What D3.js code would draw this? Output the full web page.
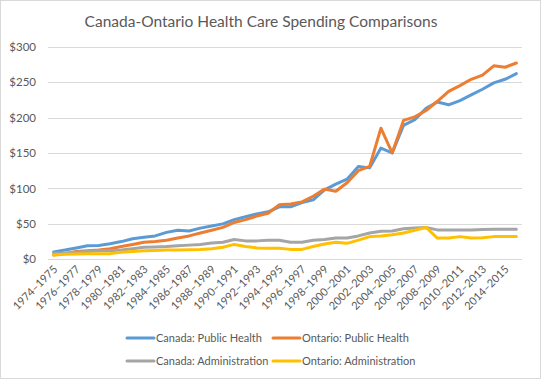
<!DOCTYPE html>
<html>
<head>
<meta charset="utf-8">
<script src="https://cdn.jsdelivr.net/npm/d3@7"></script>
<style>
html,body{margin:0;padding:0;background:#fff;}
svg{display:block;}
text{font-family:Lato,"Open Sans",sans-serif;fill:#595959;}
</style>
</head>
<body>
<svg id="chart" width="541" height="379"></svg>
<script>
const categories = ["1974–1975","1975–1976","1976–1977","1977–1978","1978–1979","1979–1980","1980–1981","1981–1982","1982–1983","1983–1984","1984–1985","1985–1986","1986–1987","1987–1988","1988–1989","1989–1990","1990–1991","1991–1992","1992–1993","1993–1994","1994–1995","1995–1996","1996–1997","1997–1998","1998–1999","1999–2000","2000–2001","2001–2002","2002–2003","2003–2004","2004–2005","2005–2006","2006–2007","2007–2008","2008–2009","2009–2010","2010–2011","2011–2012","2012–2013","2013–2014","2014–2015","2015–2016"];
const tickLabels = categories.filter((d,i)=>i%2===0);
const yTicks = [0,50,100,150,200,250,300];
const seriesNames = ["Canada: Public Health","Ontario: Public Health","Canada: Administration","Ontario: Administration"];
const seriesColors = ["#5B9BD5","#ED7D31","#A5A5A5","#FFC000"];
const canadaPublicHealth = [10.5,13,16,19,19.5,22,25,29,31,33,38,41,40,44,47,50,56,60,64,67,74,74,80,84,98,106,113,131,129,157,150,189,197,213,222,218,224,232,240,249,254,262];
const ontarioPublicHealth = [6,8,11,12,13,15,18,21,24,25,27,30,33,37,41,45,52,56,61,65,77,78,81,89,99,96,108,125,131,185,150,196,201,210,223,237,245,254,260,273,271,277];
const canadaAdministration = [8.5,9,10,11,12,12,13,15,17,17.5,18,19,20,21,23,24,28,26,26,27,27,24,24,27,28,30,30,33,37,39.5,40,43,44,45,41.5,41.5,41.5,41.5,42,42.5,42.5,42.5];
const ontarioAdministration = [6,7,7.5,8,8,8,10,11,12,12.5,13,13,13.5,14,15,17,21,18,16,15.5,15.5,14,14,18,21.5,24,22.5,27,32,33,34.5,37,41,45,30,30,32,30,30.5,32,32,32];
const seriesValues = [canadaPublicHealth,ontarioPublicHealth,canadaAdministration,ontarioAdministration];

const svg = d3.select("#chart");
const W = 541, H = 379;
svg.append("rect").attr("x",0.5).attr("y",0.5).attr("width",W-1).attr("height",H-1)
  .attr("fill","#fff").attr("stroke","#d9d9d9");

const x = d3.scalePoint().domain(categories).range([48,522]).padding(0.5);
const y = d3.scaleLinear().domain([0,300]).range([259.3,46.7]);

svg.append("text").attr("x",261).attr("y",27).attr("text-anchor","middle")
  .style("font-size","15.5px").text("Canada-Ontario Health Care Spending Comparisons");

// gridlines
svg.append("g").selectAll("line").data(yTicks).join("line")
  .attr("x1",48).attr("x2",522)
  .attr("y1",d=>Math.round(y(d))+0.5).attr("y2",d=>Math.round(y(d))+0.5)
  .attr("stroke","#d9d9d9").attr("stroke-width",1);

// y axis
const yAxis = d3.axisLeft(y).tickValues(yTicks).tickFormat(d=>"$"+d).tickSize(0).tickPadding(0);
const gy = svg.append("g").attr("transform","translate(36,0)").call(yAxis);
gy.select(".domain").remove();
gy.selectAll("text").style("font-size","11.5px").style("font-family","Lato, 'Open Sans', sans-serif").attr("fill","#595959");

// x axis
const xAxis = d3.axisBottom(x).tickValues(tickLabels).tickSize(0).tickPadding(0);
const gx = svg.append("g").attr("transform","translate(0,260)").call(xAxis);
gx.select(".domain").remove();
gx.selectAll("text").style("font-size","11px").style("font-family","Lato, 'Open Sans', sans-serif").attr("fill","#595959")
  .attr("text-anchor","end").attr("dy",null).attr("y",0)
  .attr("transform","translate(4,10) rotate(-45)");

// lines
const line = d3.line().x((d,i)=>x(categories[i])).y(d=>y(d));
svg.append("g").selectAll("path").data(seriesValues).join("path")
  .attr("d",d=>line(d)).attr("fill","none")
  .attr("stroke",(d,i)=>seriesColors[i]).attr("stroke-width",3)
  .attr("stroke-linejoin","round").attr("stroke-linecap","round");

// legend
const legPos = [[127,338],[273,338],[127,361],[273,361]];
const lg = svg.append("g").selectAll("g").data(seriesNames).join("g")
  .attr("transform",(d,i)=>`translate(${legPos[i][0]},${legPos[i][1]})`);
lg.append("line").attr("x1",0).attr("x2",27).attr("y1",0).attr("y2",0)
  .attr("stroke",(d,i)=>seriesColors[i]).attr("stroke-width",3).attr("stroke-linecap","round");
lg.append("text").attr("x",29).attr("y",0).attr("dy","0.35em").style("font-size","11px").text(d=>d);
</script>
</body>
</html>
